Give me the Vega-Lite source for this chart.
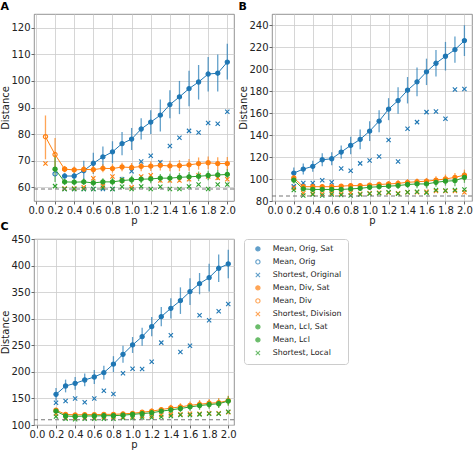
{
  "$schema": "https://vega.github.io/schema/vega-lite/v6.json",
  "padding": {"left": 0, "top": 0, "right": 0, "bottom": 0},
  "data": {
    "values": [
      {"panel": "A", "series": "Lower bound", "y": 59.3},
      {"panel": "B", "series": "Lower bound", "y": 84.5},
      {"panel": "C", "series": "Lower bound", "y": 110},

      {"panel": "A", "series": "Mean, Orig", "p": 0.2, "y": 65},
      {"panel": "A", "series": "Mean, Div", "p": 0.1, "y": 79, "lo": 70.5, "hi": 87},
      {"panel": "A", "series": "Mean, Div", "p": 0.2, "y": 72.3, "lo": 65.5, "hi": 78.5},
      {"panel": "A", "series": "Mean, Div", "p": 0.3, "y": 66.8},

      {"panel": "A", "series": "Mean, Orig, Sat", "p": 0.3, "y": 64.2, "lo": 63.5, "hi": 65.2},
      {"panel": "A", "series": "Mean, Orig, Sat", "p": 0.4, "y": 64.2, "lo": 63, "hi": 65.5},
      {"panel": "A", "series": "Mean, Orig, Sat", "p": 0.5, "y": 66.2, "lo": 62.5, "hi": 70},
      {"panel": "A", "series": "Mean, Orig, Sat", "p": 0.6, "y": 69, "lo": 65, "hi": 73},
      {"panel": "A", "series": "Mean, Orig, Sat", "p": 0.7, "y": 71.4, "lo": 67.5, "hi": 75.3},
      {"panel": "A", "series": "Mean, Orig, Sat", "p": 0.8, "y": 73.3, "lo": 69, "hi": 77.3},
      {"panel": "A", "series": "Mean, Orig, Sat", "p": 0.9, "y": 76.4, "lo": 72, "hi": 80.8},
      {"panel": "A", "series": "Mean, Orig, Sat", "p": 1.0, "y": 78.1, "lo": 74, "hi": 82.3},
      {"panel": "A", "series": "Mean, Orig, Sat", "p": 1.1, "y": 81.9, "lo": 78, "hi": 86},
      {"panel": "A", "series": "Mean, Orig, Sat", "p": 1.2, "y": 84.5, "lo": 80, "hi": 89},
      {"panel": "A", "series": "Mean, Orig, Sat", "p": 1.3, "y": 87.1, "lo": 81, "hi": 93},
      {"panel": "A", "series": "Mean, Orig, Sat", "p": 1.4, "y": 91.1, "lo": 86, "hi": 96.5},
      {"panel": "A", "series": "Mean, Orig, Sat", "p": 1.5, "y": 94, "lo": 87.5, "hi": 100},
      {"panel": "A", "series": "Mean, Orig, Sat", "p": 1.6, "y": 97.1, "lo": 90.5, "hi": 103.8},
      {"panel": "A", "series": "Mean, Orig, Sat", "p": 1.7, "y": 99.6, "lo": 93, "hi": 106},
      {"panel": "A", "series": "Mean, Orig, Sat", "p": 1.8, "y": 102.6, "lo": 96, "hi": 109},
      {"panel": "A", "series": "Mean, Orig, Sat", "p": 1.9, "y": 102.9, "lo": 96, "hi": 110},
      {"panel": "A", "series": "Mean, Orig, Sat", "p": 2.0, "y": 107.1, "lo": 100.5, "hi": 114},

      {"panel": "A", "series": "Shortest, Original", "p": 0.3, "y": 59.3},
      {"panel": "A", "series": "Shortest, Original", "p": 0.4, "y": 59.3},
      {"panel": "A", "series": "Shortest, Original", "p": 0.5, "y": 59.3},
      {"panel": "A", "series": "Shortest, Original", "p": 0.6, "y": 59.3},
      {"panel": "A", "series": "Shortest, Original", "p": 0.7, "y": 59.3},
      {"panel": "A", "series": "Shortest, Original", "p": 0.8, "y": 59.3},
      {"panel": "A", "series": "Shortest, Original", "p": 0.9, "y": 63},
      {"panel": "A", "series": "Shortest, Original", "p": 1.0, "y": 66},
      {"panel": "A", "series": "Shortest, Original", "p": 1.1, "y": 69.7},
      {"panel": "A", "series": "Shortest, Original", "p": 1.2, "y": 71.8},
      {"panel": "A", "series": "Shortest, Original", "p": 1.3, "y": 69.4},
      {"panel": "A", "series": "Shortest, Original", "p": 1.4, "y": 75.5},
      {"panel": "A", "series": "Shortest, Original", "p": 1.5, "y": 78.6},
      {"panel": "A", "series": "Shortest, Original", "p": 1.6, "y": 81.2},
      {"panel": "A", "series": "Shortest, Original", "p": 1.7, "y": 80.6},
      {"panel": "A", "series": "Shortest, Original", "p": 1.8, "y": 84.2},
      {"panel": "A", "series": "Shortest, Original", "p": 1.9, "y": 83.9},
      {"panel": "A", "series": "Shortest, Original", "p": 2.0, "y": 88.4},

      {"panel": "A", "series": "Mean, Div, Sat", "p": 0.3, "y": 66.8, "lo": 65.6, "hi": 68},
      {"panel": "A", "series": "Mean, Div, Sat", "p": 0.4, "y": 66.5, "lo": 65.3, "hi": 67.8},
      {"panel": "A", "series": "Mean, Div, Sat", "p": 0.5, "y": 66.7, "lo": 65.3, "hi": 68.1},
      {"panel": "A", "series": "Mean, Div, Sat", "p": 0.6, "y": 66.6, "lo": 65.2, "hi": 68.1},
      {"panel": "A", "series": "Mean, Div, Sat", "p": 0.7, "y": 67.1, "lo": 65.6, "hi": 68.6},
      {"panel": "A", "series": "Mean, Div, Sat", "p": 0.8, "y": 67, "lo": 65.5, "hi": 68.6},
      {"panel": "A", "series": "Mean, Div, Sat", "p": 0.9, "y": 67.6, "lo": 66, "hi": 69.2},
      {"panel": "A", "series": "Mean, Div, Sat", "p": 1.0, "y": 67.4, "lo": 65.8, "hi": 69.1},
      {"panel": "A", "series": "Mean, Div, Sat", "p": 1.1, "y": 67.8, "lo": 66, "hi": 69.6},
      {"panel": "A", "series": "Mean, Div, Sat", "p": 1.2, "y": 67.9, "lo": 66.1, "hi": 69.7},
      {"panel": "A", "series": "Mean, Div, Sat", "p": 1.3, "y": 68.2, "lo": 66.3, "hi": 70.1},
      {"panel": "A", "series": "Mean, Div, Sat", "p": 1.4, "y": 68, "lo": 66, "hi": 70},
      {"panel": "A", "series": "Mean, Div, Sat", "p": 1.5, "y": 68.1, "lo": 66, "hi": 70.2},
      {"panel": "A", "series": "Mean, Div, Sat", "p": 1.6, "y": 68.4, "lo": 66.2, "hi": 70.6},
      {"panel": "A", "series": "Mean, Div, Sat", "p": 1.7, "y": 68.9, "lo": 66.6, "hi": 71.2},
      {"panel": "A", "series": "Mean, Div, Sat", "p": 1.8, "y": 69.2, "lo": 66.8, "hi": 71.6},
      {"panel": "A", "series": "Mean, Div, Sat", "p": 1.9, "y": 68.9, "lo": 66.5, "hi": 71.3},
      {"panel": "A", "series": "Mean, Div, Sat", "p": 2.0, "y": 68.9, "lo": 66.4, "hi": 71.4},

      {"panel": "A", "series": "Shortest, Division", "p": 0.1, "y": 68.9},
      {"panel": "A", "series": "Shortest, Division", "p": 0.3, "y": 59.5},
      {"panel": "A", "series": "Shortest, Division", "p": 0.4, "y": 59.5},
      {"panel": "A", "series": "Shortest, Division", "p": 0.5, "y": 60},
      {"panel": "A", "series": "Shortest, Division", "p": 0.6, "y": 63.4},
      {"panel": "A", "series": "Shortest, Division", "p": 0.7, "y": 60.5},
      {"panel": "A", "series": "Shortest, Division", "p": 0.8, "y": 64},
      {"panel": "A", "series": "Shortest, Division", "p": 0.9, "y": 62.5},
      {"panel": "A", "series": "Shortest, Division", "p": 1.0, "y": 60},
      {"panel": "A", "series": "Shortest, Division", "p": 1.1, "y": 64},
      {"panel": "A", "series": "Shortest, Division", "p": 1.2, "y": 64.5},
      {"panel": "A", "series": "Shortest, Division", "p": 1.3, "y": 62.5},
      {"panel": "A", "series": "Shortest, Division", "p": 1.4, "y": 62.5},
      {"panel": "A", "series": "Shortest, Division", "p": 1.5, "y": 62.5},
      {"panel": "A", "series": "Shortest, Division", "p": 1.6, "y": 63},
      {"panel": "A", "series": "Shortest, Division", "p": 1.7, "y": 64.5},
      {"panel": "A", "series": "Shortest, Division", "p": 1.8, "y": 64},
      {"panel": "A", "series": "Shortest, Division", "p": 1.9, "y": 63.5},
      {"panel": "A", "series": "Shortest, Division", "p": 2.0, "y": 63},

      {"panel": "A", "series": "Mean, Lcl, Sat", "p": 0.2, "y": 66.8, "lo": 62, "hi": 72},
      {"panel": "A", "series": "Mean, Lcl, Sat", "p": 0.3, "y": 62, "lo": 60.8, "hi": 63.2},
      {"panel": "A", "series": "Mean, Lcl, Sat", "p": 0.4, "y": 61.9, "lo": 60.7, "hi": 63.1},
      {"panel": "A", "series": "Mean, Lcl, Sat", "p": 0.5, "y": 62, "lo": 60.8, "hi": 63.3},
      {"panel": "A", "series": "Mean, Lcl, Sat", "p": 0.6, "y": 61.6, "lo": 60.4, "hi": 62.9},
      {"panel": "A", "series": "Mean, Lcl, Sat", "p": 0.7, "y": 62, "lo": 60.7, "hi": 63.4},
      {"panel": "A", "series": "Mean, Lcl, Sat", "p": 0.8, "y": 62, "lo": 60.7, "hi": 63.4},
      {"panel": "A", "series": "Mean, Lcl, Sat", "p": 0.9, "y": 62.5, "lo": 61.1, "hi": 63.9},
      {"panel": "A", "series": "Mean, Lcl, Sat", "p": 1.0, "y": 62.8, "lo": 61.3, "hi": 64.3},
      {"panel": "A", "series": "Mean, Lcl, Sat", "p": 1.1, "y": 63, "lo": 61.5, "hi": 64.5},
      {"panel": "A", "series": "Mean, Lcl, Sat", "p": 1.2, "y": 63.1, "lo": 61.5, "hi": 64.7},
      {"panel": "A", "series": "Mean, Lcl, Sat", "p": 1.3, "y": 63.4, "lo": 61.8, "hi": 65},
      {"panel": "A", "series": "Mean, Lcl, Sat", "p": 1.4, "y": 63.4, "lo": 61.8, "hi": 65.1},
      {"panel": "A", "series": "Mean, Lcl, Sat", "p": 1.5, "y": 63.7, "lo": 62, "hi": 65.4},
      {"panel": "A", "series": "Mean, Lcl, Sat", "p": 1.6, "y": 63.9, "lo": 62.2, "hi": 65.7},
      {"panel": "A", "series": "Mean, Lcl, Sat", "p": 1.7, "y": 64.1, "lo": 62.3, "hi": 65.9},
      {"panel": "A", "series": "Mean, Lcl, Sat", "p": 1.8, "y": 64.4, "lo": 62.6, "hi": 66.2},
      {"panel": "A", "series": "Mean, Lcl, Sat", "p": 1.9, "y": 64.6, "lo": 62.7, "hi": 66.5},
      {"panel": "A", "series": "Mean, Lcl, Sat", "p": 2.0, "y": 64.8, "lo": 62.9, "hi": 66.8},

      {"panel": "A", "series": "Shortest, Local", "p": 0.2, "y": 60.4},
      {"panel": "A", "series": "Shortest, Local", "p": 0.3, "y": 59.3},
      {"panel": "A", "series": "Shortest, Local", "p": 0.4, "y": 59.3},
      {"panel": "A", "series": "Shortest, Local", "p": 0.5, "y": 59.3},
      {"panel": "A", "series": "Shortest, Local", "p": 0.6, "y": 59.3},
      {"panel": "A", "series": "Shortest, Local", "p": 0.7, "y": 59.8},
      {"panel": "A", "series": "Shortest, Local", "p": 0.8, "y": 59.3},
      {"panel": "A", "series": "Shortest, Local", "p": 0.9, "y": 60.2},
      {"panel": "A", "series": "Shortest, Local", "p": 1.0, "y": 59.3},
      {"panel": "A", "series": "Shortest, Local", "p": 1.1, "y": 60.3},
      {"panel": "A", "series": "Shortest, Local", "p": 1.2, "y": 59.3},
      {"panel": "A", "series": "Shortest, Local", "p": 1.3, "y": 60.2},
      {"panel": "A", "series": "Shortest, Local", "p": 1.4, "y": 59.3},
      {"panel": "A", "series": "Shortest, Local", "p": 1.5, "y": 59.3},
      {"panel": "A", "series": "Shortest, Local", "p": 1.6, "y": 60.3},
      {"panel": "A", "series": "Shortest, Local", "p": 1.7, "y": 61},
      {"panel": "A", "series": "Shortest, Local", "p": 1.8, "y": 59.3},
      {"panel": "A", "series": "Shortest, Local", "p": 1.9, "y": 61},
      {"panel": "A", "series": "Shortest, Local", "p": 2.0, "y": 61},

      {"panel": "B", "series": "Mean, Orig, Sat", "p": 0.2, "y": 105.4, "lo": 100.4, "hi": 110.4},
      {"panel": "B", "series": "Mean, Orig, Sat", "p": 0.3, "y": 109, "lo": 104, "hi": 114},
      {"panel": "B", "series": "Mean, Orig, Sat", "p": 0.4, "y": 111.5, "lo": 106.5, "hi": 116.5},
      {"panel": "B", "series": "Mean, Orig, Sat", "p": 0.5, "y": 117.5, "lo": 111.5, "hi": 123.5},
      {"panel": "B", "series": "Mean, Orig, Sat", "p": 0.6, "y": 118.4, "lo": 112.4, "hi": 124.4},
      {"panel": "B", "series": "Mean, Orig, Sat", "p": 0.7, "y": 124.5, "lo": 118.5, "hi": 130.5},
      {"panel": "B", "series": "Mean, Orig, Sat", "p": 0.8, "y": 130.5, "lo": 122.5, "hi": 138.5},
      {"panel": "B", "series": "Mean, Orig, Sat", "p": 0.9, "y": 136, "lo": 127, "hi": 145},
      {"panel": "B", "series": "Mean, Orig, Sat", "p": 1.0, "y": 143.5, "lo": 134.5, "hi": 152.5},
      {"panel": "B", "series": "Mean, Orig, Sat", "p": 1.1, "y": 152.6, "lo": 142.6, "hi": 162.6},
      {"panel": "B", "series": "Mean, Orig, Sat", "p": 1.2, "y": 163.5, "lo": 153.5, "hi": 173.5},
      {"panel": "B", "series": "Mean, Orig, Sat", "p": 1.3, "y": 171.3, "lo": 159.3, "hi": 183.3},
      {"panel": "B", "series": "Mean, Orig, Sat", "p": 1.4, "y": 180.7, "lo": 168.7, "hi": 192.7},
      {"panel": "B", "series": "Mean, Orig, Sat", "p": 1.5, "y": 188.3, "lo": 175.3, "hi": 201.3},
      {"panel": "B", "series": "Mean, Orig, Sat", "p": 1.6, "y": 197.4, "lo": 185.4, "hi": 209.4},
      {"panel": "B", "series": "Mean, Orig, Sat", "p": 1.7, "y": 205.2, "lo": 193.2, "hi": 217.2},
      {"panel": "B", "series": "Mean, Orig, Sat", "p": 1.8, "y": 211.6, "lo": 198.6, "hi": 224.6},
      {"panel": "B", "series": "Mean, Orig, Sat", "p": 1.9, "y": 217.6, "lo": 205.6, "hi": 229.6},
      {"panel": "B", "series": "Mean, Orig, Sat", "p": 2.0, "y": 225.8, "lo": 211.8, "hi": 239.8},

      {"panel": "B", "series": "Shortest, Original", "p": 0.2, "y": 93.3},
      {"panel": "B", "series": "Shortest, Original", "p": 0.3, "y": 96.3},
      {"panel": "B", "series": "Shortest, Original", "p": 0.4, "y": 96.3},
      {"panel": "B", "series": "Shortest, Original", "p": 0.5, "y": 98.8},
      {"panel": "B", "series": "Shortest, Original", "p": 0.6, "y": 97},
      {"panel": "B", "series": "Shortest, Original", "p": 0.7, "y": 109.6},
      {"panel": "B", "series": "Shortest, Original", "p": 0.8, "y": 107.5},
      {"panel": "B", "series": "Shortest, Original", "p": 0.9, "y": 114.2},
      {"panel": "B", "series": "Shortest, Original", "p": 1.0, "y": 116.9},
      {"panel": "B", "series": "Shortest, Original", "p": 1.1, "y": 120.5},
      {"panel": "B", "series": "Shortest, Original", "p": 1.2, "y": 135.4},
      {"panel": "B", "series": "Shortest, Original", "p": 1.3, "y": 116},
      {"panel": "B", "series": "Shortest, Original", "p": 1.4, "y": 145.6},
      {"panel": "B", "series": "Shortest, Original", "p": 1.5, "y": 151.7},
      {"panel": "B", "series": "Shortest, Original", "p": 1.6, "y": 160.8},
      {"panel": "B", "series": "Shortest, Original", "p": 1.7, "y": 161.4},
      {"panel": "B", "series": "Shortest, Original", "p": 1.8, "y": 154.7},
      {"panel": "B", "series": "Shortest, Original", "p": 1.9, "y": 181.3},
      {"panel": "B", "series": "Shortest, Original", "p": 2.0, "y": 181.9},

      {"panel": "B", "series": "Mean, Div, Sat", "p": 0.2, "y": 101, "lo": 98, "hi": 104},
      {"panel": "B", "series": "Mean, Div, Sat", "p": 0.3, "y": 93, "lo": 91, "hi": 95},
      {"panel": "B", "series": "Mean, Div, Sat", "p": 0.4, "y": 93, "lo": 91, "hi": 95},
      {"panel": "B", "series": "Mean, Div, Sat", "p": 0.5, "y": 93, "lo": 91, "hi": 95},
      {"panel": "B", "series": "Mean, Div, Sat", "p": 0.6, "y": 93, "lo": 91, "hi": 95},
      {"panel": "B", "series": "Mean, Div, Sat", "p": 0.7, "y": 93.5, "lo": 91.5, "hi": 95.5},
      {"panel": "B", "series": "Mean, Div, Sat", "p": 0.8, "y": 94, "lo": 92, "hi": 96},
      {"panel": "B", "series": "Mean, Div, Sat", "p": 0.9, "y": 94, "lo": 92, "hi": 96},
      {"panel": "B", "series": "Mean, Div, Sat", "p": 1.0, "y": 94.5, "lo": 92.5, "hi": 96.5},
      {"panel": "B", "series": "Mean, Div, Sat", "p": 1.1, "y": 95, "lo": 92.5, "hi": 97.5},
      {"panel": "B", "series": "Mean, Div, Sat", "p": 1.2, "y": 95.5, "lo": 93, "hi": 98},
      {"panel": "B", "series": "Mean, Div, Sat", "p": 1.3, "y": 96, "lo": 93, "hi": 99},
      {"panel": "B", "series": "Mean, Div, Sat", "p": 1.4, "y": 97, "lo": 94, "hi": 100},
      {"panel": "B", "series": "Mean, Div, Sat", "p": 1.5, "y": 97.5, "lo": 94.5, "hi": 100.5},
      {"panel": "B", "series": "Mean, Div, Sat", "p": 1.6, "y": 98, "lo": 95, "hi": 101},
      {"panel": "B", "series": "Mean, Div, Sat", "p": 1.7, "y": 99, "lo": 95.5, "hi": 102.5},
      {"panel": "B", "series": "Mean, Div, Sat", "p": 1.8, "y": 100, "lo": 96, "hi": 104},
      {"panel": "B", "series": "Mean, Div, Sat", "p": 1.9, "y": 101.5, "lo": 97.5, "hi": 105.5},
      {"panel": "B", "series": "Mean, Div, Sat", "p": 2.0, "y": 103.5, "lo": 98.5, "hi": 108.5},

      {"panel": "B", "series": "Shortest, Division", "p": 0.2, "y": 92},
      {"panel": "B", "series": "Shortest, Division", "p": 0.3, "y": 87},
      {"panel": "B", "series": "Shortest, Division", "p": 0.4, "y": 86.5},
      {"panel": "B", "series": "Shortest, Division", "p": 0.5, "y": 86.5},
      {"panel": "B", "series": "Shortest, Division", "p": 0.6, "y": 87},
      {"panel": "B", "series": "Shortest, Division", "p": 0.7, "y": 86.5},
      {"panel": "B", "series": "Shortest, Division", "p": 0.8, "y": 87.5},
      {"panel": "B", "series": "Shortest, Division", "p": 0.9, "y": 86.5},
      {"panel": "B", "series": "Shortest, Division", "p": 1.0, "y": 87},
      {"panel": "B", "series": "Shortest, Division", "p": 1.1, "y": 87.5},
      {"panel": "B", "series": "Shortest, Division", "p": 1.2, "y": 87.5},
      {"panel": "B", "series": "Shortest, Division", "p": 1.3, "y": 87},
      {"panel": "B", "series": "Shortest, Division", "p": 1.4, "y": 88},
      {"panel": "B", "series": "Shortest, Division", "p": 1.5, "y": 88},
      {"panel": "B", "series": "Shortest, Division", "p": 1.6, "y": 88.5},
      {"panel": "B", "series": "Shortest, Division", "p": 1.7, "y": 89},
      {"panel": "B", "series": "Shortest, Division", "p": 1.8, "y": 89},
      {"panel": "B", "series": "Shortest, Division", "p": 1.9, "y": 89},
      {"panel": "B", "series": "Shortest, Division", "p": 2.0, "y": 88},

      {"panel": "B", "series": "Mean, Lcl, Sat", "p": 0.2, "y": 99, "lo": 96, "hi": 102},
      {"panel": "B", "series": "Mean, Lcl, Sat", "p": 0.3, "y": 91, "lo": 89, "hi": 93},
      {"panel": "B", "series": "Mean, Lcl, Sat", "p": 0.4, "y": 90.5, "lo": 88.5, "hi": 92.5},
      {"panel": "B", "series": "Mean, Lcl, Sat", "p": 0.5, "y": 90.5, "lo": 88.5, "hi": 92.5},
      {"panel": "B", "series": "Mean, Lcl, Sat", "p": 0.6, "y": 90.5, "lo": 88.5, "hi": 92.5},
      {"panel": "B", "series": "Mean, Lcl, Sat", "p": 0.7, "y": 90.5, "lo": 88.5, "hi": 92.5},
      {"panel": "B", "series": "Mean, Lcl, Sat", "p": 0.8, "y": 91, "lo": 89, "hi": 93},
      {"panel": "B", "series": "Mean, Lcl, Sat", "p": 0.9, "y": 91.5, "lo": 89.5, "hi": 93.5},
      {"panel": "B", "series": "Mean, Lcl, Sat", "p": 1.0, "y": 92.5, "lo": 90, "hi": 95},
      {"panel": "B", "series": "Mean, Lcl, Sat", "p": 1.1, "y": 93, "lo": 90.5, "hi": 95.5},
      {"panel": "B", "series": "Mean, Lcl, Sat", "p": 1.2, "y": 93.5, "lo": 91, "hi": 96},
      {"panel": "B", "series": "Mean, Lcl, Sat", "p": 1.3, "y": 94, "lo": 91, "hi": 97},
      {"panel": "B", "series": "Mean, Lcl, Sat", "p": 1.4, "y": 95, "lo": 92, "hi": 98},
      {"panel": "B", "series": "Mean, Lcl, Sat", "p": 1.5, "y": 95.5, "lo": 91.5, "hi": 99.5},
      {"panel": "B", "series": "Mean, Lcl, Sat", "p": 1.6, "y": 95.5, "lo": 91.5, "hi": 99.5},
      {"panel": "B", "series": "Mean, Lcl, Sat", "p": 1.7, "y": 97, "lo": 93, "hi": 101},
      {"panel": "B", "series": "Mean, Lcl, Sat", "p": 1.8, "y": 98, "lo": 94, "hi": 102},
      {"panel": "B", "series": "Mean, Lcl, Sat", "p": 1.9, "y": 98.5, "lo": 93.5, "hi": 103.5},
      {"panel": "B", "series": "Mean, Lcl, Sat", "p": 2.0, "y": 101.5, "lo": 96.5, "hi": 106.5},

      {"panel": "B", "series": "Shortest, Local", "p": 0.2, "y": 90},
      {"panel": "B", "series": "Shortest, Local", "p": 0.3, "y": 85},
      {"panel": "B", "series": "Shortest, Local", "p": 0.4, "y": 86},
      {"panel": "B", "series": "Shortest, Local", "p": 0.5, "y": 85},
      {"panel": "B", "series": "Shortest, Local", "p": 0.6, "y": 86},
      {"panel": "B", "series": "Shortest, Local", "p": 0.7, "y": 85.5},
      {"panel": "B", "series": "Shortest, Local", "p": 0.8, "y": 85},
      {"panel": "B", "series": "Shortest, Local", "p": 0.9, "y": 86},
      {"panel": "B", "series": "Shortest, Local", "p": 1.0, "y": 86.5},
      {"panel": "B", "series": "Shortest, Local", "p": 1.1, "y": 87},
      {"panel": "B", "series": "Shortest, Local", "p": 1.2, "y": 88},
      {"panel": "B", "series": "Shortest, Local", "p": 1.3, "y": 86.5},
      {"panel": "B", "series": "Shortest, Local", "p": 1.4, "y": 88},
      {"panel": "B", "series": "Shortest, Local", "p": 1.5, "y": 88.5},
      {"panel": "B", "series": "Shortest, Local", "p": 1.6, "y": 87.5},
      {"panel": "B", "series": "Shortest, Local", "p": 1.7, "y": 90},
      {"panel": "B", "series": "Shortest, Local", "p": 1.8, "y": 89.5},
      {"panel": "B", "series": "Shortest, Local", "p": 1.9, "y": 90},
      {"panel": "B", "series": "Shortest, Local", "p": 2.0, "y": 90.5},

      {"panel": "C", "series": "Mean, Orig, Sat", "p": 0.2, "y": 157.7, "lo": 145.7, "hi": 169.7},
      {"panel": "C", "series": "Mean, Orig, Sat", "p": 0.3, "y": 173.4, "lo": 161.4, "hi": 185.4},
      {"panel": "C", "series": "Mean, Orig, Sat", "p": 0.4, "y": 178.4, "lo": 166.4, "hi": 190.4},
      {"panel": "C", "series": "Mean, Orig, Sat", "p": 0.5, "y": 184.7, "lo": 172.7, "hi": 196.7},
      {"panel": "C", "series": "Mean, Orig, Sat", "p": 0.6, "y": 190.3, "lo": 177.3, "hi": 203.3},
      {"panel": "C", "series": "Mean, Orig, Sat", "p": 0.7, "y": 198.5, "lo": 185.5, "hi": 211.5},
      {"panel": "C", "series": "Mean, Orig, Sat", "p": 0.8, "y": 214.5, "lo": 199.5, "hi": 229.5},
      {"panel": "C", "series": "Mean, Orig, Sat", "p": 0.9, "y": 233, "lo": 217, "hi": 249},
      {"panel": "C", "series": "Mean, Orig, Sat", "p": 1.0, "y": 250.6, "lo": 235.6, "hi": 265.6},
      {"panel": "C", "series": "Mean, Orig, Sat", "p": 1.1, "y": 266.2, "lo": 249.2, "hi": 283.2},
      {"panel": "C", "series": "Mean, Orig, Sat", "p": 1.2, "y": 285, "lo": 267, "hi": 303},
      {"panel": "C", "series": "Mean, Orig, Sat", "p": 1.3, "y": 303.9, "lo": 285.9, "hi": 321.9},
      {"panel": "C", "series": "Mean, Orig, Sat", "p": 1.4, "y": 319.6, "lo": 300.6, "hi": 338.6},
      {"panel": "C", "series": "Mean, Orig, Sat", "p": 1.5, "y": 334, "lo": 309, "hi": 359},
      {"panel": "C", "series": "Mean, Orig, Sat", "p": 1.6, "y": 351, "lo": 326, "hi": 376},
      {"panel": "C", "series": "Mean, Orig, Sat", "p": 1.7, "y": 366, "lo": 346, "hi": 386},
      {"panel": "C", "series": "Mean, Orig, Sat", "p": 1.8, "y": 377.3, "lo": 351.3, "hi": 403.3},
      {"panel": "C", "series": "Mean, Orig, Sat", "p": 1.9, "y": 394.9, "lo": 368.9, "hi": 420.9},
      {"panel": "C", "series": "Mean, Orig, Sat", "p": 2.0, "y": 403, "lo": 376, "hi": 430},

      {"panel": "C", "series": "Shortest, Original", "p": 0.2, "y": 142},
      {"panel": "C", "series": "Shortest, Original", "p": 0.3, "y": 145},
      {"panel": "C", "series": "Shortest, Original", "p": 0.4, "y": 150},
      {"panel": "C", "series": "Shortest, Original", "p": 0.5, "y": 142.7},
      {"panel": "C", "series": "Shortest, Original", "p": 0.6, "y": 150},
      {"panel": "C", "series": "Shortest, Original", "p": 0.7, "y": 164.6},
      {"panel": "C", "series": "Shortest, Original", "p": 0.8, "y": 158.3},
      {"panel": "C", "series": "Shortest, Original", "p": 0.9, "y": 197.2},
      {"panel": "C", "series": "Shortest, Original", "p": 1.0, "y": 206},
      {"panel": "C", "series": "Shortest, Original", "p": 1.1, "y": 205.4},
      {"panel": "C", "series": "Shortest, Original", "p": 1.2, "y": 219.2},
      {"panel": "C", "series": "Shortest, Original", "p": 1.3, "y": 255},
      {"panel": "C", "series": "Shortest, Original", "p": 1.4, "y": 268.8},
      {"panel": "C", "series": "Shortest, Original", "p": 1.5, "y": 237.4},
      {"panel": "C", "series": "Shortest, Original", "p": 1.6, "y": 249.3},
      {"panel": "C", "series": "Shortest, Original", "p": 1.7, "y": 306.4},
      {"panel": "C", "series": "Shortest, Original", "p": 1.8, "y": 297},
      {"panel": "C", "series": "Shortest, Original", "p": 1.9, "y": 314},
      {"panel": "C", "series": "Shortest, Original", "p": 2.0, "y": 327.7},

      {"panel": "C", "series": "Mean, Div, Sat", "p": 0.2, "y": 128, "lo": 124, "hi": 132},
      {"panel": "C", "series": "Mean, Div, Sat", "p": 0.3, "y": 120, "lo": 117, "hi": 123},
      {"panel": "C", "series": "Mean, Div, Sat", "p": 0.4, "y": 119, "lo": 116, "hi": 122},
      {"panel": "C", "series": "Mean, Div, Sat", "p": 0.5, "y": 119.5, "lo": 116.5, "hi": 122.5},
      {"panel": "C", "series": "Mean, Div, Sat", "p": 0.6, "y": 119.5, "lo": 116.5, "hi": 122.5},
      {"panel": "C", "series": "Mean, Div, Sat", "p": 0.7, "y": 120, "lo": 117, "hi": 123},
      {"panel": "C", "series": "Mean, Div, Sat", "p": 0.8, "y": 120, "lo": 117, "hi": 123},
      {"panel": "C", "series": "Mean, Div, Sat", "p": 0.9, "y": 121, "lo": 117, "hi": 125},
      {"panel": "C", "series": "Mean, Div, Sat", "p": 1.0, "y": 122, "lo": 118, "hi": 126},
      {"panel": "C", "series": "Mean, Div, Sat", "p": 1.1, "y": 124, "lo": 120, "hi": 128},
      {"panel": "C", "series": "Mean, Div, Sat", "p": 1.2, "y": 126, "lo": 121, "hi": 131},
      {"panel": "C", "series": "Mean, Div, Sat", "p": 1.3, "y": 129, "lo": 124, "hi": 134},
      {"panel": "C", "series": "Mean, Div, Sat", "p": 1.4, "y": 132, "lo": 126, "hi": 138},
      {"panel": "C", "series": "Mean, Div, Sat", "p": 1.5, "y": 134, "lo": 127, "hi": 141},
      {"panel": "C", "series": "Mean, Div, Sat", "p": 1.6, "y": 137, "lo": 130, "hi": 144},
      {"panel": "C", "series": "Mean, Div, Sat", "p": 1.7, "y": 139, "lo": 131, "hi": 147},
      {"panel": "C", "series": "Mean, Div, Sat", "p": 1.8, "y": 141, "lo": 133, "hi": 149},
      {"panel": "C", "series": "Mean, Div, Sat", "p": 1.9, "y": 142, "lo": 133, "hi": 151},
      {"panel": "C", "series": "Mean, Div, Sat", "p": 2.0, "y": 146, "lo": 137, "hi": 155},

      {"panel": "C", "series": "Shortest, Division", "p": 0.2, "y": 121},
      {"panel": "C", "series": "Shortest, Division", "p": 0.3, "y": 114},
      {"panel": "C", "series": "Shortest, Division", "p": 0.4, "y": 113},
      {"panel": "C", "series": "Shortest, Division", "p": 0.5, "y": 114},
      {"panel": "C", "series": "Shortest, Division", "p": 0.6, "y": 114},
      {"panel": "C", "series": "Shortest, Division", "p": 0.7, "y": 115},
      {"panel": "C", "series": "Shortest, Division", "p": 0.8, "y": 115},
      {"panel": "C", "series": "Shortest, Division", "p": 0.9, "y": 115},
      {"panel": "C", "series": "Shortest, Division", "p": 1.0, "y": 116},
      {"panel": "C", "series": "Shortest, Division", "p": 1.1, "y": 117},
      {"panel": "C", "series": "Shortest, Division", "p": 1.2, "y": 117},
      {"panel": "C", "series": "Shortest, Division", "p": 1.3, "y": 119},
      {"panel": "C", "series": "Shortest, Division", "p": 1.4, "y": 120},
      {"panel": "C", "series": "Shortest, Division", "p": 1.5, "y": 120},
      {"panel": "C", "series": "Shortest, Division", "p": 1.6, "y": 121},
      {"panel": "C", "series": "Shortest, Division", "p": 1.7, "y": 121},
      {"panel": "C", "series": "Shortest, Division", "p": 1.8, "y": 122},
      {"panel": "C", "series": "Shortest, Division", "p": 1.9, "y": 122},
      {"panel": "C", "series": "Shortest, Division", "p": 2.0, "y": 124},

      {"panel": "C", "series": "Mean, Lcl, Sat", "p": 0.2, "y": 126, "lo": 122, "hi": 130},
      {"panel": "C", "series": "Mean, Lcl, Sat", "p": 0.3, "y": 117, "lo": 114, "hi": 120},
      {"panel": "C", "series": "Mean, Lcl, Sat", "p": 0.4, "y": 116, "lo": 113, "hi": 119},
      {"panel": "C", "series": "Mean, Lcl, Sat", "p": 0.5, "y": 117, "lo": 114, "hi": 120},
      {"panel": "C", "series": "Mean, Lcl, Sat", "p": 0.6, "y": 117, "lo": 114, "hi": 120},
      {"panel": "C", "series": "Mean, Lcl, Sat", "p": 0.7, "y": 117.5, "lo": 114.5, "hi": 120.5},
      {"panel": "C", "series": "Mean, Lcl, Sat", "p": 0.8, "y": 117.5, "lo": 114.5, "hi": 120.5},
      {"panel": "C", "series": "Mean, Lcl, Sat", "p": 0.9, "y": 118.5, "lo": 114.5, "hi": 122.5},
      {"panel": "C", "series": "Mean, Lcl, Sat", "p": 1.0, "y": 120, "lo": 116, "hi": 124},
      {"panel": "C", "series": "Mean, Lcl, Sat", "p": 1.1, "y": 121.5, "lo": 117.5, "hi": 125.5},
      {"panel": "C", "series": "Mean, Lcl, Sat", "p": 1.2, "y": 123, "lo": 118, "hi": 128},
      {"panel": "C", "series": "Mean, Lcl, Sat", "p": 1.3, "y": 126, "lo": 121, "hi": 131},
      {"panel": "C", "series": "Mean, Lcl, Sat", "p": 1.4, "y": 128.5, "lo": 122.5, "hi": 134.5},
      {"panel": "C", "series": "Mean, Lcl, Sat", "p": 1.5, "y": 131, "lo": 124, "hi": 138},
      {"panel": "C", "series": "Mean, Lcl, Sat", "p": 1.6, "y": 134, "lo": 127, "hi": 141},
      {"panel": "C", "series": "Mean, Lcl, Sat", "p": 1.7, "y": 136.5, "lo": 128.5, "hi": 144.5},
      {"panel": "C", "series": "Mean, Lcl, Sat", "p": 1.8, "y": 138.5, "lo": 130.5, "hi": 146.5},
      {"panel": "C", "series": "Mean, Lcl, Sat", "p": 1.9, "y": 140, "lo": 132, "hi": 148},
      {"panel": "C", "series": "Mean, Lcl, Sat", "p": 2.0, "y": 145, "lo": 136, "hi": 154},

      {"panel": "C", "series": "Shortest, Local", "p": 0.2, "y": 116},
      {"panel": "C", "series": "Shortest, Local", "p": 0.3, "y": 112},
      {"panel": "C", "series": "Shortest, Local", "p": 0.4, "y": 111},
      {"panel": "C", "series": "Shortest, Local", "p": 0.5, "y": 112},
      {"panel": "C", "series": "Shortest, Local", "p": 0.6, "y": 112},
      {"panel": "C", "series": "Shortest, Local", "p": 0.7, "y": 112},
      {"panel": "C", "series": "Shortest, Local", "p": 0.8, "y": 112},
      {"panel": "C", "series": "Shortest, Local", "p": 0.9, "y": 113},
      {"panel": "C", "series": "Shortest, Local", "p": 1.0, "y": 113},
      {"panel": "C", "series": "Shortest, Local", "p": 1.1, "y": 114},
      {"panel": "C", "series": "Shortest, Local", "p": 1.2, "y": 114},
      {"panel": "C", "series": "Shortest, Local", "p": 1.3, "y": 115},
      {"panel": "C", "series": "Shortest, Local", "p": 1.4, "y": 117},
      {"panel": "C", "series": "Shortest, Local", "p": 1.5, "y": 119},
      {"panel": "C", "series": "Shortest, Local", "p": 1.6, "y": 119},
      {"panel": "C", "series": "Shortest, Local", "p": 1.7, "y": 120},
      {"panel": "C", "series": "Shortest, Local", "p": 1.8, "y": 121},
      {"panel": "C", "series": "Shortest, Local", "p": 1.9, "y": 121},
      {"panel": "C", "series": "Shortest, Local", "p": 2.0, "y": 125}
    ]
  },
  "columns": 2,
  "bounds": "flush",
  "spacing": 38,
  "resolve": {"scale": {"x": "independent", "y": "independent", "stroke": "independent", "fill": "independent", "shape": "independent"}},
  "concat": [
    {
      "width": 200,
      "height": 187,
      "title": {"text": "A"},
      "layer": [
        {
          "transform": [{"filter": "datum.panel === 'A' && isValid(datum.lo)"}],
          "mark": {"type": "rule", "strokeWidth": 1.3, "opacity": 0.7, "clip": true},
          "encoding": {
            "x": {"field": "p", "type": "quantitative", "title": "p", "scale": {"domain": [-0.02, 2.07], "nice": false, "zero": false}, "axis": {"values": [0, 0.2, 0.4, 0.6, 0.8, 1, 1.2, 1.4, 1.6, 1.8, 2], "tickCount": 30, "format": ".1f", "labelOverlap": false}},
            "y": {"field": "lo", "type": "quantitative", "title": "Distance", "scale": {"domain": [54.8, 125.2], "nice": false, "zero": false}, "axis": {"values": [60, 70, 80, 90, 100, 110, 120], "tickCount": 30, "labelOverlap": false}},
            "y2": {"field": "hi"},
            "stroke": {"field": "series", "type": "nominal", "legend": null, "scale": {"domain": ["Mean, Orig, Sat", "Mean, Orig", "Shortest, Original", "Mean, Div, Sat", "Mean, Div", "Shortest, Division", "Mean, Lcl, Sat", "Mean, Lcl", "Shortest, Local"], "range": ["#1f77b4", "#1f77b4", "#1f77b4", "#ff7f0e", "#ff7f0e", "#ff7f0e", "#2ca02c", "#2ca02c", "#2ca02c"]}}
          }
        },
        {
          "transform": [{"filter": "datum.panel === 'A' && indexof(datum.series, 'Mean') === 0"}],
          "mark": {"type": "line", "strokeWidth": 1, "clip": true},
          "encoding": {
            "x": {"field": "p", "type": "quantitative", "scale": {"domain": [-0.02, 2.07], "nice": false, "zero": false}},
            "y": {"field": "y", "type": "quantitative", "scale": {"domain": [54.8, 125.2], "nice": false, "zero": false}},
            "stroke": {"field": "series", "type": "nominal", "legend": null}
          }
        },
        {
          "transform": [{"filter": "datum.panel === 'A' && datum.series !== 'Lower bound'"}],
          "mark": {"type": "point", "size": 18, "strokeWidth": 1.1, "opacity": 1, "clip": true},
          "encoding": {
            "x": {"field": "p", "type": "quantitative", "scale": {"domain": [-0.02, 2.07], "nice": false, "zero": false}},
            "y": {"field": "y", "type": "quantitative", "scale": {"domain": [54.8, 125.2], "nice": false, "zero": false}},
            "stroke": {"field": "series", "type": "nominal", "legend": null},
            "fill": {"field": "series", "type": "nominal", "legend": null, "scale": {"domain": ["Mean, Orig, Sat", "Mean, Orig", "Shortest, Original", "Mean, Div, Sat", "Mean, Div", "Shortest, Division", "Mean, Lcl, Sat", "Mean, Lcl", "Shortest, Local"], "range": ["#1f77b4", "transparent", "transparent", "#ff7f0e", "transparent", "transparent", "#2ca02c", "#2ca02c", "transparent"]}},
            "shape": {"field": "series", "type": "nominal", "legend": null, "scale": {"domain": ["Mean, Orig, Sat", "Mean, Orig", "Shortest, Original", "Mean, Div, Sat", "Mean, Div", "Shortest, Division", "Mean, Lcl, Sat", "Mean, Lcl", "Shortest, Local"], "range": ["circle", "circle", "M-1,-1L1,1M1,-1L-1,1", "circle", "circle", "M-1,-1L1,1M1,-1L-1,1", "circle", "circle", "M-1,-1L1,1M1,-1L-1,1"]}}
          }
        },
        {
          "transform": [{"filter": "datum.panel === 'A' && datum.series === 'Lower bound'"}],
          "mark": {"type": "rule", "strokeDash": [4, 3], "color": "#777777", "strokeWidth": 1.1},
          "encoding": {
            "y": {"field": "y", "type": "quantitative", "scale": {"domain": [54.8, 125.2], "nice": false, "zero": false}}
          }
        }
      ]
    },
    {
      "width": 200,
      "height": 187,
      "title": {"text": "B"},
      "layer": [
        {
          "transform": [{"filter": "datum.panel === 'B' && isValid(datum.lo)"}],
          "mark": {"type": "rule", "strokeWidth": 1.3, "opacity": 0.7, "clip": true},
          "encoding": {
            "x": {"field": "p", "type": "quantitative", "title": "p", "scale": {"domain": [-0.03, 2.08], "nice": false, "zero": false}, "axis": {"values": [0, 0.2, 0.4, 0.6, 0.8, 1, 1.2, 1.4, 1.6, 1.8, 2], "tickCount": 30, "format": ".1f", "labelOverlap": false}},
            "y": {"field": "lo", "type": "quantitative", "title": "Distance", "scale": {"domain": [80, 250], "nice": false, "zero": false}, "axis": {"values": [80, 100, 120, 140, 160, 180, 200, 220, 240], "tickCount": 30, "labelOverlap": false}},
            "y2": {"field": "hi"},
            "stroke": {"field": "series", "type": "nominal", "legend": null, "scale": {"domain": ["Mean, Orig, Sat", "Mean, Orig", "Shortest, Original", "Mean, Div, Sat", "Mean, Div", "Shortest, Division", "Mean, Lcl, Sat", "Mean, Lcl", "Shortest, Local"], "range": ["#1f77b4", "#1f77b4", "#1f77b4", "#ff7f0e", "#ff7f0e", "#ff7f0e", "#2ca02c", "#2ca02c", "#2ca02c"]}}
          }
        },
        {
          "transform": [{"filter": "datum.panel === 'B' && indexof(datum.series, 'Mean') === 0"}],
          "mark": {"type": "line", "strokeWidth": 1, "clip": true},
          "encoding": {
            "x": {"field": "p", "type": "quantitative", "scale": {"domain": [-0.03, 2.08], "nice": false, "zero": false}},
            "y": {"field": "y", "type": "quantitative", "scale": {"domain": [80, 250], "nice": false, "zero": false}},
            "stroke": {"field": "series", "type": "nominal", "legend": null}
          }
        },
        {
          "transform": [{"filter": "datum.panel === 'B' && datum.series !== 'Lower bound'"}],
          "mark": {"type": "point", "size": 18, "strokeWidth": 1.1, "opacity": 1, "clip": true},
          "encoding": {
            "x": {"field": "p", "type": "quantitative", "scale": {"domain": [-0.03, 2.08], "nice": false, "zero": false}},
            "y": {"field": "y", "type": "quantitative", "scale": {"domain": [80, 250], "nice": false, "zero": false}},
            "stroke": {"field": "series", "type": "nominal", "legend": null},
            "fill": {"field": "series", "type": "nominal", "legend": null, "scale": {"domain": ["Mean, Orig, Sat", "Mean, Orig", "Shortest, Original", "Mean, Div, Sat", "Mean, Div", "Shortest, Division", "Mean, Lcl, Sat", "Mean, Lcl", "Shortest, Local"], "range": ["#1f77b4", "transparent", "transparent", "#ff7f0e", "transparent", "transparent", "#2ca02c", "#2ca02c", "transparent"]}},
            "shape": {"field": "series", "type": "nominal", "legend": null, "scale": {"domain": ["Mean, Orig, Sat", "Mean, Orig", "Shortest, Original", "Mean, Div, Sat", "Mean, Div", "Shortest, Division", "Mean, Lcl, Sat", "Mean, Lcl", "Shortest, Local"], "range": ["circle", "circle", "M-1,-1L1,1M1,-1L-1,1", "circle", "circle", "M-1,-1L1,1M1,-1L-1,1", "circle", "circle", "M-1,-1L1,1M1,-1L-1,1"]}}
          }
        },
        {
          "transform": [{"filter": "datum.panel === 'B' && datum.series === 'Lower bound'"}],
          "mark": {"type": "rule", "strokeDash": [4, 3], "color": "#777777", "strokeWidth": 1.1},
          "encoding": {
            "y": {"field": "y", "type": "quantitative", "scale": {"domain": [80, 250], "nice": false, "zero": false}}
          }
        }
      ]
    },
    {
      "width": 200,
      "height": 186,
      "title": {"text": "C"},
      "layer": [
        {
          "transform": [{"filter": "datum.panel === 'C' && isValid(datum.lo)"}],
          "mark": {"type": "rule", "strokeWidth": 1.3, "opacity": 0.7, "clip": true},
          "encoding": {
            "x": {"field": "p", "type": "quantitative", "title": "p", "scale": {"domain": [-0.03, 2.06], "nice": false, "zero": false}, "axis": {"values": [0, 0.2, 0.4, 0.6, 0.8, 1, 1.2, 1.4, 1.6, 1.8, 2], "tickCount": 30, "format": ".1f", "labelOverlap": false}},
            "y": {"field": "lo", "type": "quantitative", "title": "Distance", "scale": {"domain": [100, 450], "nice": false, "zero": false}, "axis": {"values": [100, 150, 200, 250, 300, 350, 400, 450], "tickCount": 30, "labelOverlap": false}},
            "y2": {"field": "hi"},
            "stroke": {"field": "series", "type": "nominal", "title": null, "scale": {"domain": ["Mean, Orig, Sat", "Mean, Orig", "Shortest, Original", "Mean, Div, Sat", "Mean, Div", "Shortest, Division", "Mean, Lcl, Sat", "Mean, Lcl", "Shortest, Local"], "range": ["#1f77b4", "#1f77b4", "#1f77b4", "#ff7f0e", "#ff7f0e", "#ff7f0e", "#2ca02c", "#2ca02c", "#2ca02c"]}}
          }
        },
        {
          "transform": [{"filter": "datum.panel === 'C' && indexof(datum.series, 'Mean') === 0"}],
          "mark": {"type": "line", "strokeWidth": 1, "clip": true},
          "encoding": {
            "x": {"field": "p", "type": "quantitative", "scale": {"domain": [-0.03, 2.06], "nice": false, "zero": false}},
            "y": {"field": "y", "type": "quantitative", "scale": {"domain": [100, 450], "nice": false, "zero": false}},
            "stroke": {"field": "series", "type": "nominal", "title": null}
          }
        },
        {
          "transform": [{"filter": "datum.panel === 'C' && datum.series !== 'Lower bound'"}],
          "mark": {"type": "point", "size": 18, "strokeWidth": 1.1, "opacity": 1, "clip": true},
          "encoding": {
            "x": {"field": "p", "type": "quantitative", "scale": {"domain": [-0.03, 2.06], "nice": false, "zero": false}},
            "y": {"field": "y", "type": "quantitative", "scale": {"domain": [100, 450], "nice": false, "zero": false}},
            "stroke": {"field": "series", "type": "nominal", "title": null},
            "fill": {"field": "series", "type": "nominal", "title": null, "scale": {"domain": ["Mean, Orig, Sat", "Mean, Orig", "Shortest, Original", "Mean, Div, Sat", "Mean, Div", "Shortest, Division", "Mean, Lcl, Sat", "Mean, Lcl", "Shortest, Local"], "range": ["#1f77b4", "transparent", "transparent", "#ff7f0e", "transparent", "transparent", "#2ca02c", "#2ca02c", "transparent"]}},
            "shape": {"field": "series", "type": "nominal", "title": null, "scale": {"domain": ["Mean, Orig, Sat", "Mean, Orig", "Shortest, Original", "Mean, Div, Sat", "Mean, Div", "Shortest, Division", "Mean, Lcl, Sat", "Mean, Lcl", "Shortest, Local"], "range": ["circle", "circle", "M-1,-1L1,1M1,-1L-1,1", "circle", "circle", "M-1,-1L1,1M1,-1L-1,1", "circle", "circle", "M-1,-1L1,1M1,-1L-1,1"]}}
          }
        },
        {
          "transform": [{"filter": "datum.panel === 'C' && datum.series === 'Lower bound'"}],
          "mark": {"type": "rule", "strokeDash": [4, 3], "color": "#777777", "strokeWidth": 1.1},
          "encoding": {
            "y": {"field": "y", "type": "quantitative", "scale": {"domain": [100, 450], "nice": false, "zero": false}}
          }
        }
      ]
    }
  ],
  "config": {
    "font": "DejaVu Sans",
    "view": {"stroke": "#777777", "strokeWidth": 0.8},
    "axis": {
      "domain": false,
      "grid": true,
      "gridColor": "#cccccc",
      "gridWidth": 0.8,
      "tickColor": "#444444",
      "tickSize": 3,
      "tickWidth": 0.8,
      "labelFont": "DejaVu Sans",
      "labelFontSize": 10,
      "labelColor": "#222222",
      "labelPadding": 1,
      "labelOverlap": false,
      "titleFont": "DejaVu Sans",
      "titleFontSize": 10,
      "titleFontWeight": "normal",
      "titleColor": "#222222",
      "titlePadding": 0.5
    },
    "axisX": {"labelFlush": false},
    "legend": {
      "orient": "right",
      "offset": 10,
      "labelFont": "DejaVu Sans",
      "labelFontSize": 7.8,
      "labelColor": "#222222",
      "symbolSize": 18,
      "symbolStrokeWidth": 1.1,
      "symbolOffset": 4,
      "labelOffset": 11,
      "rowPadding": 3,
      "padding": 6,
      "titlePadding": 0,
      "strokeColor": "#cccccc",
      "cornerRadius": 3,
      "fillColor": "#ffffff"
    },
    "title": {
      "anchor": "start",
      "frame": "bounds",
      "font": "DejaVu Sans",
      "fontSize": 11,
      "fontWeight": "bold",
      "color": "#000000",
      "offset": 2
    }
  }
}
